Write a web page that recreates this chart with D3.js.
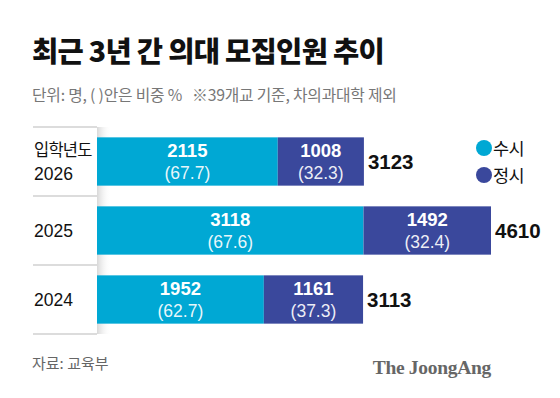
<!DOCTYPE html>
<html><head><meta charset="utf-8">
<script src="https://cdn.jsdelivr.net/npm/d3@7"></script>
<style>
html,body{margin:0;padding:0;background:#fff;}
svg{display:block;font-family:"Noto Sans CJK KR","Noto Sans",sans-serif;}
</style></head>
<body>
<svg id="c" width="560" height="398"></svg>
<script>
const years = ["2026", "2025", "2024"];
const susi = [2115, 3118, 1952];
const jeongsi = [1008, 1492, 1161];
const susiPct = ["67.7", "67.6", "62.7"];
const jeongsiPct = ["32.3", "32.4", "37.3"];
const totals = [3123, 4610, 3113];
const seriesNames = ["수시", "정시"];

const colors = ["#00a8d4", "#3a489c"];
const svg = d3.select("#c");
const numFont = "'Liberation Sans', Arial, sans-serif";

const x = d3.scaleLinear().domain([0, 4610]).range([97, 491]);
const y = d3.scaleBand().domain(years).range([127, 334]).paddingInner(0.3).paddingOuter(0.15);

// title
svg.append("text").attr("x", 32).attr("y", 62).attr("font-size", 28.5).attr("font-weight", 900)
  .attr("fill", "#111").attr("letter-spacing", -0.7).text("최근 3년 간 의대 모집인원 추이");
svg.append("text").attr("x", 32).attr("y", 101).attr("font-size", 15.8).attr("fill", "#777")
  .attr("letter-spacing", -0.2).attr("xml:space", "preserve")
  .text("단위: 명, ( )안은 비중 %   ※39개교 기준, 차의과대학 제외");

// shadow strip
const defs = svg.append("defs");
const g = defs.append("linearGradient").attr("id", "sh").attr("x1", 0).attr("x2", 1);
g.append("stop").attr("offset", 0).attr("stop-color", "#d8d8d8");
g.append("stop").attr("offset", 1).attr("stop-color", "#ffffff").attr("stop-opacity", 0);
svg.append("rect").attr("x", 97).attr("y", 127).attr("width", 14).attr("height", 207).attr("fill", "url(#sh)");

// separator lines
const seps = [127, 196, 265, 334];
svg.selectAll("line.sep").data(seps).join("line").attr("class", "sep")
  .attr("x1", 33).attr("x2", 97).attr("y1", d => d).attr("y2", d => d)
  .attr("stroke", "#d0d0d0").attr("stroke-width", 1.5);

// bars
const rows = years.map((yr, i) => ({yr, i}));
const bh = y.bandwidth();
rows.forEach(r => {
  const y0 = y(r.yr);
  const segs = [
    {s: 0, e: susi[r.i], v: susi[r.i], p: susiPct[r.i], c: colors[0]},
    {s: susi[r.i], e: susi[r.i] + jeongsi[r.i], v: jeongsi[r.i], p: jeongsiPct[r.i], c: colors[1]}
  ];
  segs.forEach(sg => {
    svg.append("rect").attr("x", x(sg.s)).attr("y", y0).attr("width", x(sg.e) - x(sg.s)).attr("height", bh).attr("fill", sg.c);
    const cx = (x(sg.s) + x(sg.e)) / 2;
    svg.append("text").attr("x", cx).attr("y", y0 + 20).attr("text-anchor", "middle")
      .attr("font-size", 18.5).attr("font-weight", 700).attr("fill", "#fff")
      .attr("font-family", numFont).text(sg.v);
    svg.append("text").attr("x", cx).attr("y", y0 + 42).attr("text-anchor", "middle")
      .attr("font-size", 17.5).attr("font-weight", 400).attr("fill", "#fff").attr("fill-opacity", 0.92)
      .attr("font-family", numFont).text("(" + sg.p + ")");
  });
  svg.append("text").attr("x", x(totals[r.i]) + 4).attr("y", y0 + bh / 2 + 7.5)
    .attr("font-size", 20.5).attr("font-weight", 700).attr("fill", "#111")
    .attr("font-family", numFont).text(totals[r.i]);
});

// row labels
svg.append("text").attr("x", 34).attr("y", 156).attr("font-size", 16.5).attr("fill", "#111").attr("letter-spacing", -0.8).text("입학년도");
years.forEach((yr, i) => {
  const yy = i === 0 ? 180 : y(yr) + bh / 2 + 6.5;
  svg.append("text").attr("x", 34).attr("y", yy).attr("font-size", 17.5).attr("fill", "#111")
    .attr("font-family", numFont).text(yr);
});

// legend
seriesNames.forEach((n, i) => {
  const ly = 148 + i * 27;
  svg.append("circle").attr("cx", 484).attr("cy", ly).attr("r", 8).attr("fill", colors[i]);
  svg.append("text").attr("x", 493).attr("y", ly + 6.5).attr("font-size", 17.5).attr("fill", "#111").attr("letter-spacing", -0.5).text(n);
});

// footer
svg.append("text").attr("x", 32).attr("y", 369).attr("font-size", 15).attr("fill", "#666").text("자료: 교육부");
svg.append("text").attr("x", 491).attr("y", 374).attr("text-anchor", "end").attr("font-size", 19.5)
  .attr("font-weight", 700).attr("fill", "#666").attr("letter-spacing", -0.3)
  .attr("font-family", "'Liberation Serif', 'DejaVu Serif', serif").text("The JoongAng");
</script>
</body></html>
